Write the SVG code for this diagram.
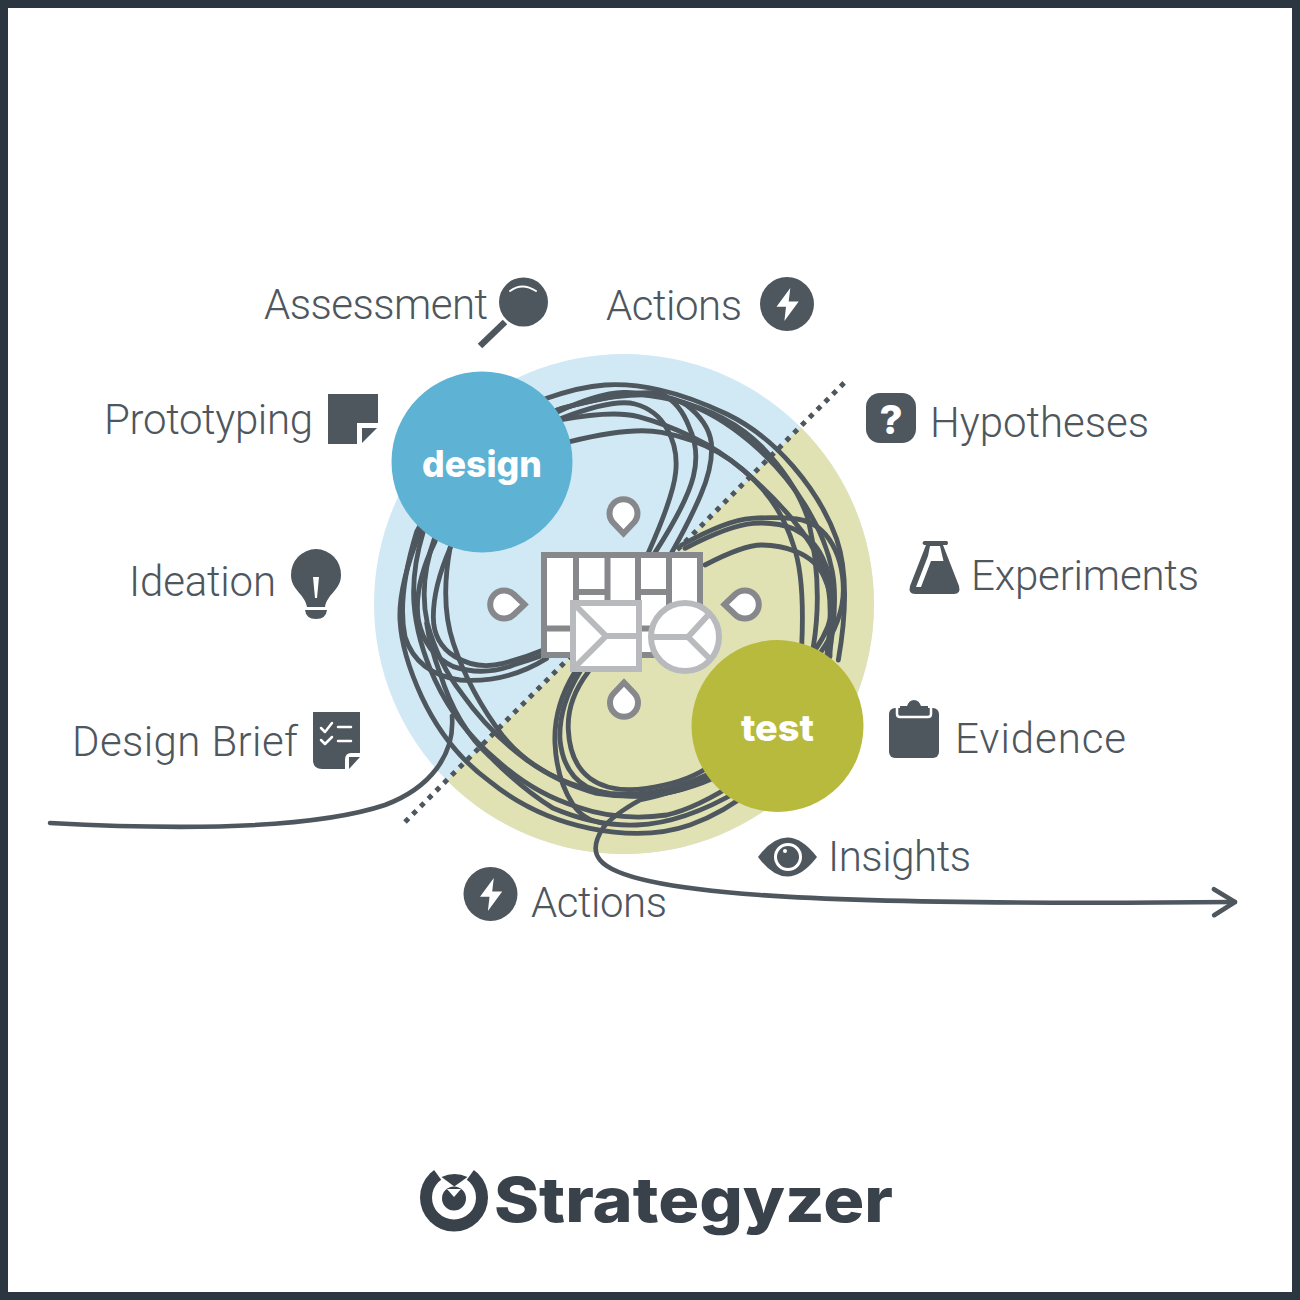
<svg xmlns="http://www.w3.org/2000/svg" width="1300" height="1300" viewBox="0 0 1300 1300">
<style>
.lb{font-family:"Roboto","Liberation Sans",sans-serif;font-weight:300;font-size:42px;fill:#4e565e}
.d{fill:#4e565e}
.w{fill:#fff}
.wl{fill:none;stroke:#fff;stroke-linecap:round;stroke-linejoin:round}
.sc path{fill:none;stroke:#4e565e;stroke-width:14.5;stroke-linecap:round}
.main{fill:none;stroke:#4e565e;stroke-width:4.6;stroke-linecap:round}
.pin{fill:#fff;stroke:#87888c;stroke-width:6;stroke-linejoin:miter}
.big{font-family:"Inter","Lato",sans-serif;font-weight:800;font-size:37px;fill:#fff;text-anchor:middle}
.bm{fill:none;stroke:#87888c;stroke-width:6}
.ov{fill:#fff;stroke:#b9babe;stroke-width:6}
.ovl{fill:none;stroke:#b9babe;stroke-width:6}
</style>
<defs>
<marker id="chev" markerUnits="userSpaceOnUse" markerWidth="30" markerHeight="34" refX="24" refY="14" orient="auto" overflow="visible">
<path d="M3 1L24 14L3 27" fill="none" stroke="#4e565e" stroke-width="4.6" stroke-linecap="round" stroke-linejoin="round"/>
</marker>
<path id="pinS" d="M0 17.500L-10 7A14 14 0 1 1 10 7Z"/>
<path id="bolt" d="M3.300-16L-10.500 2.700H-1L-2.600 17L11.700-2.600H1.700Z"/>
</defs>
<rect width="1300" height="1300" fill="#fff"/>
<g id="bg-circle">
<circle cx="624" cy="604" r="250" fill="#d1e9f5"/>
<path d="M800.800 427.200A250 250 0 0 1 447.200 780.800Z" fill="#e1e2b4"/>
</g>
<path id="divider" d="M405 822L846 381" fill="none" stroke="#4e565e" stroke-width="5" stroke-dasharray="5 6"/>
<g id="connectors">
<g class="sc" transform="translate(530 370) scale(.33333)">
<path d="M30 95L50 85Q150 50 225 45Q300 40 390 60Q480 80 590 132Q700 185 790 290Q880 395 920 507Q965 640 925 870"/>
<path d="M60 135L85 125Q200 70 280 67Q360 65 460 97Q560 130 660 215Q760 300 825 405Q890 510 907 605Q925 700 895 870"/>
<path d="M70 155L95 145Q250 85 315 102Q380 120 410 175Q445 235 437 307Q430 380 355 548"/>
<path d="M70 125L95 115Q350 50 400 75Q450 100 477 170Q510 240 490 320Q470 400 375 548"/>
<path d="M80 120Q200 85 260 80Q420 60 482 115Q545 170 545 235Q545 300 512 375Q480 450 425 548"/>
<path d="M90 225L120 215Q300 170 395 187Q490 205 565 247Q640 290 700 360Q760 430 790 525Q825 620 815 830"/>
<path d="M70 155L90 150Q250 120 325 140Q400 160 485 200Q570 240 645 305Q720 370 785 445Q850 520 880 600Q915 680 890 860"/>
<path d="M300 70Q360 75 430 90Q600 130 700 235Q800 340 835 450Q880 650 850 830"/>
<path d="M455 525Q590 450 665 445Q740 440 800 447Q860 455 897 507Q940 570 940 660Q940 750 870 850"/>
<path d="M465 535Q600 465 670 460Q740 455 792 477Q850 505 877 562Q910 630 908 700Q905 770 855 840"/>
<path d="M525 585Q640 525 695 525Q750 525 800 545Q860 570 882 620Q910 680 905 750Q900 800 900 860"/>
</g>
<g class="sc" transform="translate(390 530) scale(.33333)">
<path d="M115 -40L90 5Q25 170 30 270Q35 370 95 500Q170 660 300 755Q430 860 600 895Q770 930 900 885Q1000 850 1100 770"/>
<path d="M125 -40L100 5Q65 120 72 220Q80 330 135 450Q200 590 320 690Q430 790 560 830Q690 875 830 855Q920 835 1050 750"/>
<path d="M155 -25L135 20Q85 160 112 280Q145 400 215 490Q300 610 410 690Q520 770 660 790Q800 805 960 730"/>
<path d="M190 20L180 55Q150 220 190 340Q240 490 340 620Q440 740 620 790Q800 820 970 745"/>
<path d="M195 20L180 55Q130 170 130 260Q130 340 195 380Q260 420 340 400Q400 385 460 360"/>
<path d="M150 -10L135 35Q70 170 85 270Q105 370 190 410Q280 440 370 405Q420 390 460 375"/>
<path d="M105 -40L80 5Q20 200 45 320Q80 430 210 450Q350 460 470 385"/>
<path d="M110 280Q120 350 150 430Q200 590 300 680Q400 780 490 835Q620 890 740 885Q880 880 1050 780"/>
<path d="M555 425Q490 530 495 640Q500 750 550 825Q580 870 640 880"/>
<path d="M595 425Q530 510 535 600Q540 700 600 745Q660 790 770 775Q880 760 950 715"/>
<path d="M570 425Q505 530 510 630Q520 730 590 770Q680 810 800 795Q900 780 970 735"/>
</g>
<path class="main" d="M50 823C180 830 310 830 385 805C430 788 455 755 452 716"/>
<path class="main" marker-end="url(#chev)" d="M723 772Q673 794 640 800Q613 815 603 828Q590 848 600 860Q620 885 760 895Q900 905 1235 902"/>
</g>
<g id="center-pins">
<use href="#pinS" class="pin" transform="translate(623.500 516)"/>
<use href="#pinS" class="pin" transform="translate(624 700) rotate(180)"/>
<use href="#pinS" class="pin" transform="translate(507 604.500) rotate(-90)"/>
<use href="#pinS" class="pin" transform="translate(742 604.500) rotate(90)"/>
</g>
<g id="canvas-icon">
<rect x="544" y="555" width="156" height="100" fill="#fff" stroke="#87888c" stroke-width="6"/>
<path class="bm" d="M576 555V655M607.500 555V605M638 555V605M669 555V655M576 592H607.500M638 592H669M544 628.500H576M638 628.500H669"/>
</g>
<g id="envelope-icon">
<rect x="573" y="603" width="66" height="66" class="ov"/>
<path class="ovl" d="M574 604L606 636L574 668M606 636H639"/>
</g>
<g id="pie-icon">
<circle cx="685" cy="637" r="34" class="ov"/>
<path class="ovl" d="M652 637H688L710 613M688 637L710 659"/>
</g>
<g id="design"><circle cx="482" cy="462" r="90.500" fill="#5eb2d3"/><text x="482" y="477" class="big" textLength="120" lengthAdjust="spacingAndGlyphs">design</text></g>
<g id="test"><circle cx="777.500" cy="726" r="86" fill="#b7ba3d"/><text x="777.500" y="741" class="big" textLength="73" lengthAdjust="spacingAndGlyphs">test</text></g>
<g id="assessment">
<text x="264" y="319" class="lb" textLength="224">Assessment</text>
<circle cx="523.500" cy="302" r="24.500" class="d"/>
<path d="M505 322L480 346" stroke="#4e565e" stroke-width="6.500" fill="none"/>
<path class="wl" stroke-width="2" d="M510 291Q522 282 536 291"/>
</g>
<g id="actions-top">
<text x="606" y="320" class="lb" textLength="136">Actions</text>
<circle cx="787" cy="304" r="27" class="d"/><use href="#bolt" class="w" transform="translate(787 304)"/>
</g>
<g id="prototyping">
<text x="104" y="434" class="lb" textLength="209">Prototyping</text>
<path class="d" d="M328 394H378V423H357V444H328Z"/><path class="d" d="M362 428H377L362 443Z"/>
</g>
<g id="hypotheses">
<rect x="866" y="393" width="50" height="50" rx="14" class="d"/>
<text x="891" y="434" font-family="Inter,'Liberation Sans',sans-serif" font-weight="800" font-size="40" fill="#fff" text-anchor="middle">?</text>
<text x="930" y="437" class="lb" textLength="219">Hypotheses</text>
</g>
<g id="ideation">
<text x="129" y="596" class="lb" textLength="147">Ideation</text>
<path class="d" d="M316 549A25.500 25.500 0 0 1 341 575C341 590 327 594 325 607H307C305 594 291 590 291 575A25.500 25.500 0 0 1 316 549Z"/>
<path class="d" d="M305 610H327Q326 619 316 619Q306 619 305 610Z"/>
<path class="w" d="M313 577H319L317 598H315Z"/>
</g>
<g id="experiments">
<path class="d" d="M924 541H947Q949 543 947 545H943L959 586Q961 594 954 594H915Q908 594 910 586L926 545H924Q921 543 924 541Z"/>
<path class="w" d="M930 546H940L943.500 561H931L921 587H916L928 556Z"/>
<text x="971" y="590" class="lb" textLength="228">Experiments</text>
</g>
<g id="design-brief">
<text x="72" y="756" class="lb" textLength="226">Design Brief</text>
<path class="d" d="M313 712H360V753H351Q345 753 345 760V769H322Q313 769 313 760Z"/>
<path class="d" d="M349 757H360L349 769Z"/>
<path class="wl" stroke-width="2.500" d="M321 728L325 732L332 723M321 740L325 744L332 737M338 727H351M338 741H351"/>
</g>
<g id="evidence">
<rect x="889" y="708" width="50" height="50" rx="6" class="d"/>
<path class="wl" stroke-width="2.500" d="M897 705V714Q897 717 900 717H928Q931 717 931 714V705"/>
<path class="d" d="M900 706H907Q909 700 914 700Q919 700 921 706H928V713H900Z"/>
<text x="955" y="753" class="lb" textLength="171">Evidence</text>
</g>
<g id="insights">
<path class="d" d="M758 857Q787 818 817 857Q787 896 758 857Z"/>
<circle cx="788" cy="857" r="12.500" fill="none" stroke="#fff" stroke-width="3"/>
<circle cx="785" cy="851" r="2" class="w"/>
<text x="828" y="871" class="lb" textLength="143">Insights</text>
</g>
<g id="actions-bottom">
<circle cx="490.500" cy="894" r="27" class="d"/><use href="#bolt" class="w" transform="translate(490.500 894)"/>
<text x="531" y="917" class="lb" textLength="136">Actions</text>
</g>
<g id="logo">
<circle cx="454" cy="1197.500" r="34" fill="#39424a"/>
<circle cx="454" cy="1197.500" r="22" class="w"/>
<path class="w" d="M454 1197.500L424 1156H484Z"/>
<circle cx="454" cy="1198.500" r="12" fill="#39424a"/>
<path class="w" d="M447 1189H461L454 1197Z"/>
<path fill="#39424a" d="M441.500 1177Q454.500 1171 467.500 1177L454.300 1186.500Z"/>
<text x="494" y="1222" font-family="Inter,Lato,sans-serif" font-weight="800" font-size="62" fill="#39424a" textLength="399" lengthAdjust="spacingAndGlyphs">Strategyzer</text>
</g>
<rect id="frame" x="4" y="4" width="1292" height="1292" fill="none" stroke="#2b3640" stroke-width="8"/>
</svg>
